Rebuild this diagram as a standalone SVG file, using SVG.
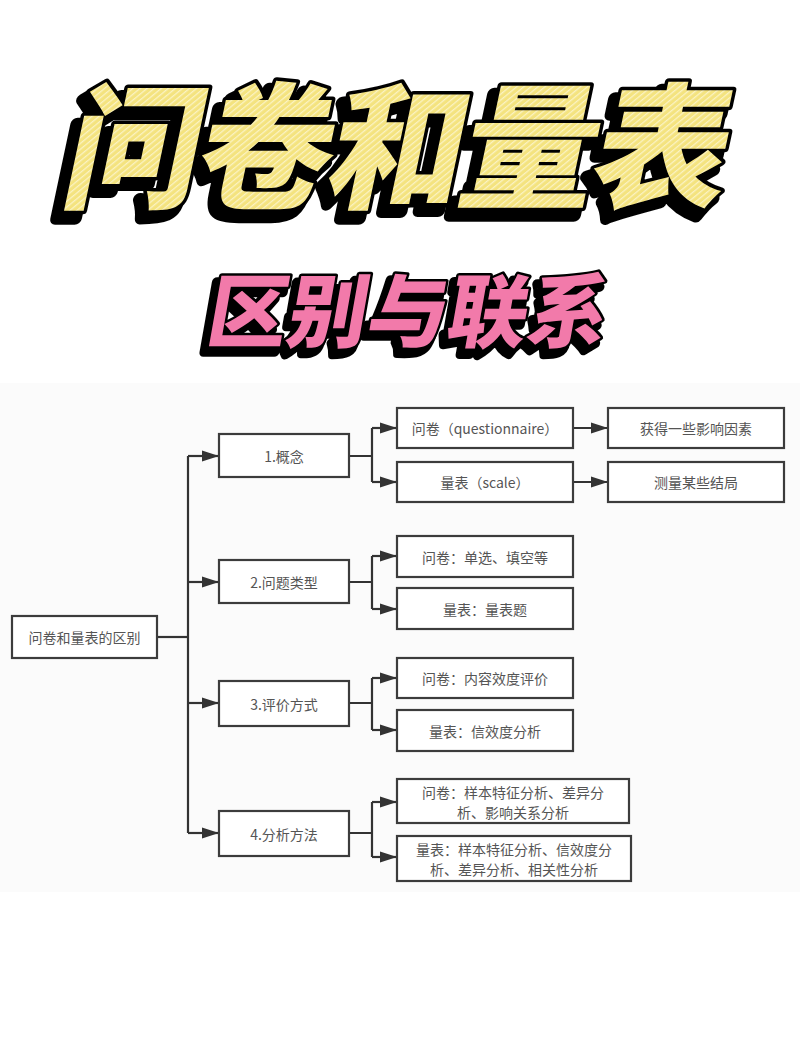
<svg xmlns="http://www.w3.org/2000/svg" width="800" height="1051" viewBox="0 0 800 1051">
  <defs>
    <pattern id="stripes" width="5" height="5" patternUnits="userSpaceOnUse" patternTransform="rotate(45)">
      <rect width="5" height="5" fill="#f4e37f"/>
      <rect width="1.4" height="5" fill="#fbf3c4"/>
    </pattern>
    <marker id="arr" markerUnits="userSpaceOnUse" markerWidth="18" markerHeight="12" refX="17" refY="6" orient="auto">
      <path d="M0,0.5 L17,6 L0,11.5 z" fill="#333"/>
    </marker>
    <style>
      .title{font-family:"Noto Sans CJK SC","Noto Sans CJK JP",sans-serif;font-weight:900;text-anchor:middle}
      .box{fill:#fff;stroke:#3c3c3c;stroke-width:2.2}
      .lbl{font-family:"Noto Sans CJK SC","Noto Sans CJK JP",sans-serif;font-size:14px;fill:#555;text-anchor:middle;dominant-baseline:central}
      .con{fill:none;stroke:#333;stroke-width:2.2}
    </style>
  </defs>
  <rect width="800" height="1051" fill="#ffffff"/>
  <rect x="0" y="383" width="800" height="509" fill="#fbfbfb"/>

  <!-- Title -->
  <g id="title">
    <g transform="translate(388,198) skewX(-12)">
      <text class="title" x="-6" y="8" font-size="136" fill="#000" stroke="#000" stroke-width="12" stroke-linejoin="round" letter-spacing="-4">问卷和量表</text>
      <text class="title" x="0" y="0" font-size="136" fill="url(#stripes)" stroke="#000" stroke-width="7" stroke-linejoin="round" paint-order="stroke" letter-spacing="-4">问卷和量表</text>
    </g>
  </g>
  <g id="subtitle">
    <g transform="translate(404,341) skewX(-10)">
      <text class="title" x="-4" y="6" font-size="80" fill="#000" stroke="#000" stroke-width="9" stroke-linejoin="round">区别与联系</text>
      <text class="title" x="0" y="0" font-size="80" fill="#f27aaa" stroke="#000" stroke-width="5" stroke-linejoin="round" paint-order="stroke">区别与联系</text>
    </g>
  </g>

  <!-- Connectors -->
  <g id="connectors">
    <path class="con" d="M157,637 L188,637"/>
    <path class="con" d="M188,456 L188,833"/>
    <path class="con" d="M188,456 L219,456" marker-end="url(#arr)"/>
    <path class="con" d="M188,582 L219,582" marker-end="url(#arr)"/>
    <path class="con" d="M188,703 L219,703" marker-end="url(#arr)"/>
    <path class="con" d="M188,833 L219,833" marker-end="url(#arr)"/>

    <path class="con" d="M349,456 L372,456 M372,428 L372,482"/>
    <path class="con" d="M372,428 L397,428" marker-end="url(#arr)"/>
    <path class="con" d="M372,482 L397,482" marker-end="url(#arr)"/>

    <path class="con" d="M349,582 L372,582 M372,556 L372,609"/>
    <path class="con" d="M372,556 L397,556" marker-end="url(#arr)"/>
    <path class="con" d="M372,609 L397,609" marker-end="url(#arr)"/>

    <path class="con" d="M349,703 L372,703 M372,678 L372,730"/>
    <path class="con" d="M372,678 L397,678" marker-end="url(#arr)"/>
    <path class="con" d="M372,730 L397,730" marker-end="url(#arr)"/>

    <path class="con" d="M349,833 L372,833 M372,802 L372,857"/>
    <path class="con" d="M372,802 L397,802" marker-end="url(#arr)"/>
    <path class="con" d="M372,857 L397,857" marker-end="url(#arr)"/>

    <path class="con" d="M573,428 L608,428" marker-end="url(#arr)"/>
    <path class="con" d="M573,482 L608,482" marker-end="url(#arr)"/>
  </g>

  <!-- Nodes -->
  <g id="root"><rect class="box" x="12" y="616" width="145" height="42"/><text class="lbl" x="84.5" y="637">问卷和量表的区别</text></g>

  <g id="n1"><rect class="box" x="219" y="434" width="130" height="43"/><text class="lbl" x="284" y="455.5">1.概念</text></g>
  <g id="n2"><rect class="box" x="219" y="560" width="130" height="43"/><text class="lbl" x="284" y="581.5">2.问题类型</text></g>
  <g id="n3"><rect class="box" x="219" y="681" width="130" height="45"/><text class="lbl" x="284" y="703.5">3.评价方式</text></g>
  <g id="n4"><rect class="box" x="219" y="811" width="130" height="45"/><text class="lbl" x="284" y="833.5">4.分析方法</text></g>

  <g id="n1a"><rect class="box" x="397" y="408" width="176" height="40"/><text class="lbl" x="485" y="428">问卷（questionnaire）</text></g>
  <g id="n1b"><rect class="box" x="397" y="462" width="176" height="40"/><text class="lbl" x="485" y="482">量表（scale）</text></g>
  <g id="n1a1"><rect class="box" x="608" y="408" width="176" height="40"/><text class="lbl" x="696" y="428">获得一些影响因素</text></g>
  <g id="n1b1"><rect class="box" x="608" y="462" width="176" height="40"/><text class="lbl" x="696" y="482">测量某些结局</text></g>

  <g id="n2a"><rect class="box" x="397" y="536" width="176" height="41"/><text class="lbl" x="485" y="556.5">问卷：单选、填空等</text></g>
  <g id="n2b"><rect class="box" x="397" y="588" width="176" height="41"/><text class="lbl" x="485" y="608.5">量表：量表题</text></g>

  <g id="n3a"><rect class="box" x="397" y="658" width="176" height="40"/><text class="lbl" x="485" y="678">问卷：内容效度评价</text></g>
  <g id="n3b"><rect class="box" x="397" y="710" width="176" height="41"/><text class="lbl" x="485" y="730.5">量表：信效度分析</text></g>

  <g id="n4a"><rect class="box" x="397" y="779" width="232" height="44"/>
    <text class="lbl" x="513" y="792">问卷：样本特征分析、差异分</text>
    <text class="lbl" x="513" y="812">析、影响关系分析</text></g>
  <g id="n4b"><rect class="box" x="397" y="836" width="234" height="45"/>
    <text class="lbl" x="514" y="849">量表：样本特征分析、信效度分</text>
    <text class="lbl" x="514" y="869">析、差异分析、相关性分析</text></g>
</svg>
